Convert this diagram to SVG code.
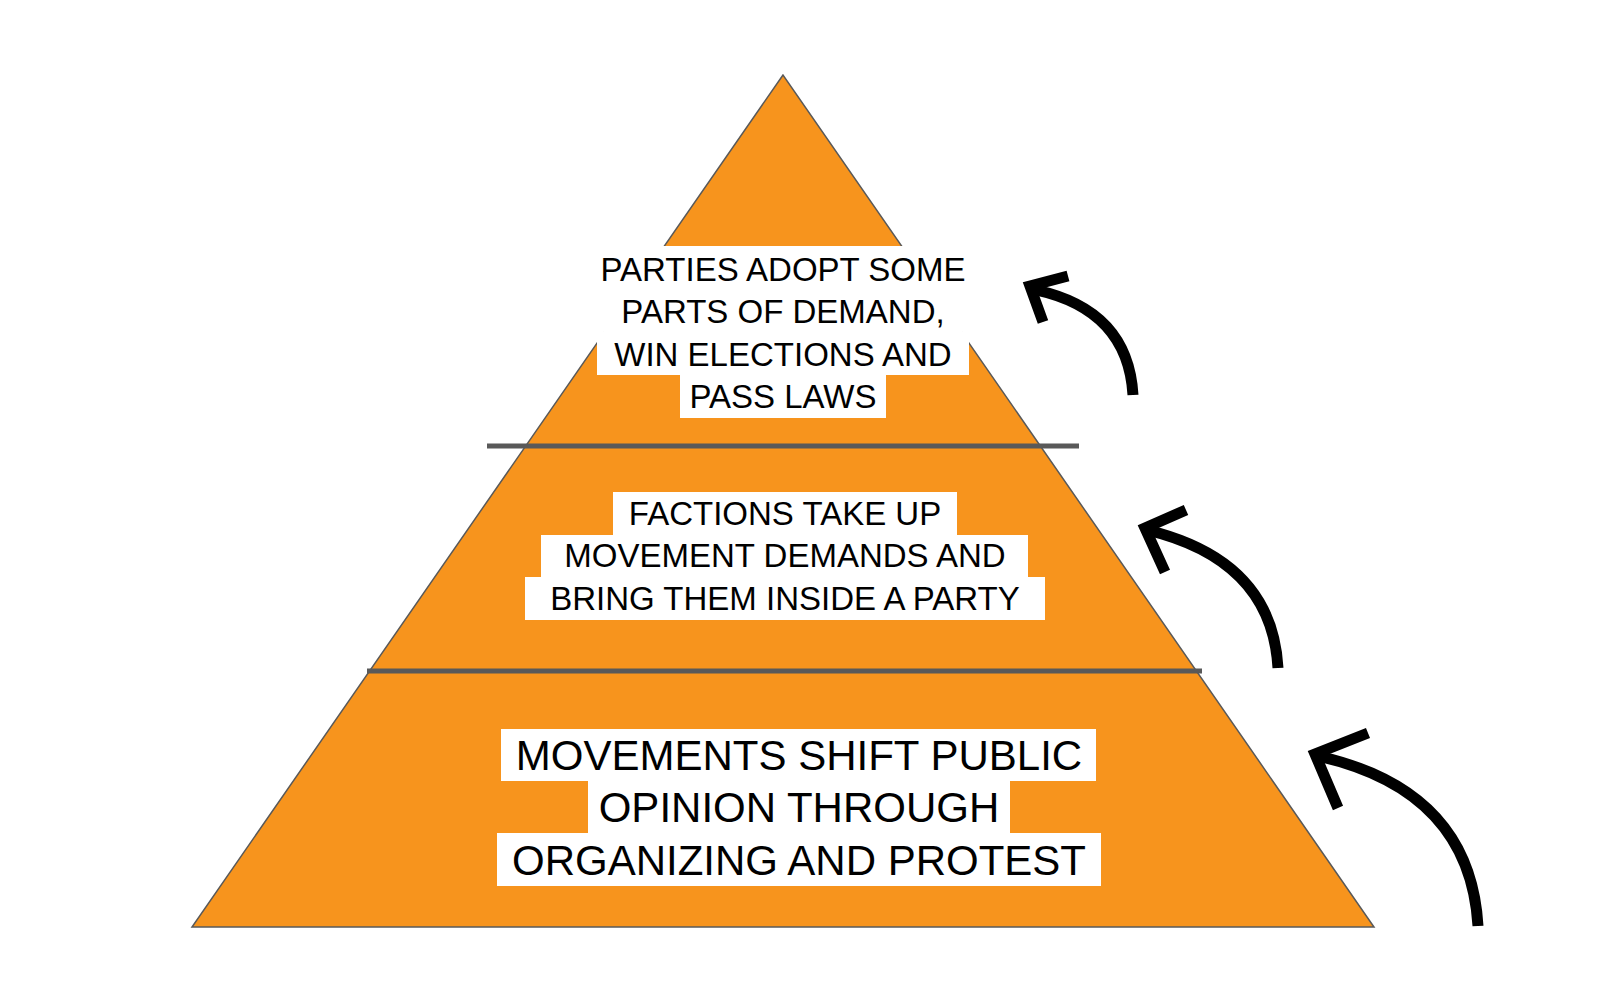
<svg xmlns="http://www.w3.org/2000/svg" width="1600" height="1007" viewBox="0 0 1600 1007">
<style>
.t{font-family:"Liberation Sans",Arial,sans-serif;fill:#000;text-anchor:middle}
.bg{fill:#fff}
.div{stroke:#595959;stroke-width:5}
.arr{fill:none;stroke:#000;stroke-width:11}
</style>
<rect width="1600" height="1007" fill="#fff"/>
<g id="pyramid">
<polygon points="783,75 192,927 1374,927" fill="#F7941D" stroke="#595959" stroke-width="1.5"/>
</g>
<g id="dividers">
<line class="div" x1="487" y1="446" x2="1079" y2="446"/>
<line class="div" x1="367" y1="671" x2="1202" y2="671"/>
</g>
<g id="top">
<rect class="bg" x="560" y="246" width="445" height="44"/>
<rect class="bg" x="604" y="290" width="358" height="42"/>
<rect class="bg" x="597" y="332" width="372" height="43"/>
<rect class="bg" x="680" y="375" width="206" height="43"/>
<g class="t" font-size="33">
<text x="783" y="281">PARTIES ADOPT SOME</text>
<text x="783" y="323">PARTS OF DEMAND,</text>
<text x="783" y="366">WIN ELECTIONS AND</text>
<text x="783" y="408">PASS LAWS</text>
</g>
</g>
<g id="middle">
<rect class="bg" x="613" y="492" width="344" height="43"/>
<rect class="bg" x="541" y="535" width="487" height="42"/>
<rect class="bg" x="525" y="577" width="520" height="43"/>
<g class="t" font-size="33">
<text x="785" y="525">FACTIONS TAKE UP</text>
<text x="785" y="567">MOVEMENT DEMANDS AND</text>
<text x="785" y="610">BRING THEM INSIDE A PARTY</text>
</g>
</g>
<g id="bottom">
<rect class="bg" x="501" y="729" width="595" height="52"/>
<rect class="bg" x="588" y="781" width="422" height="52"/>
<rect class="bg" x="497" y="833" width="604" height="53"/>
<g class="t" font-size="42">
<text x="799" y="770">MOVEMENTS SHIFT PUBLIC</text>
<text x="799" y="822">OPINION THROUGH</text>
<text x="799" y="875">ORGANIZING AND PROTEST</text>
</g>
</g>
<g id="connectors">
<path class="arr" d="M1133,395 Q1128,310 1036,290"/>
<path class="arr" d="M1043,322 L1030,286 L1068,276"/>
<path class="arr" d="M1278,668 Q1272,560 1147,530"/>
<path class="arr" d="M1165,572 L1145,528 L1186,510"/>
<path class="arr" d="M1478,926 Q1470,790 1318,756"/>
<path class="arr" d="M1338,808 L1315,754 L1368,733"/>
</g>
</svg>
